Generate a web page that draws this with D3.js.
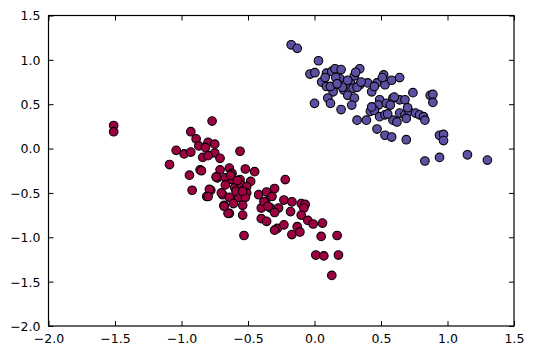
<!DOCTYPE html>
<html><head><meta charset="utf-8">
<script src="https://cdn.jsdelivr.net/npm/d3@7"></script>
<style>body{margin:0;background:#fff}svg{display:block}</style>
</head><body>
<svg id="c" width="535" height="356"></svg>
<script>
const xTicks = [-2.0,-1.5,-1.0,-0.5,0.0,0.5,1.0,1.5];
const yTicks = [-2.0,-1.5,-1.0,-0.5,0.0,0.5,1.0,1.5];

const redX = [-1.51,-1.51,-0.77,-0.93,-0.89,-1.04,-0.98,-0.93,-0.87,-0.80,-0.82,-0.75,-0.75,-1.09,-0.94,-0.86,-0.92,-0.78,-0.81,0.17,0.01,0.07,0.18,0.13,
 -0.84,-0.80,-0.71,-0.56,-0.85,-0.71,-0.64,-0.62,-0.52,-0.45,-0.73,-0.67,-0.62,-0.56,-0.48,-0.67,-0.60,-0.55,-0.51,-0.51,-0.69,-0.64,-0.57,-0.52,-0.79,-0.80,
 -0.68,-0.61,-0.54,-0.64,-0.54,-0.53,-0.42,-0.36,-0.30,-0.32,-0.37,-0.40,-0.33,-0.27,-0.22,-0.23,-0.17,-0.18,-0.40,-0.36,-0.28,-0.23,-0.17,-0.13,-0.11,
 -0.10,-0.07,-0.08,-0.10,-0.05,-0.01,0.06,0.05,-0.65,-0.68,-0.63,-0.59,-0.70,-0.74,-0.38,-0.35,-0.30,-0.30,-0.54,-0.58];
const redY = [0.26,0.19,0.31,0.19,0.11,-0.02,-0.06,-0.04,0.03,0.07,0.01,0.05,-0.05,-0.18,-0.30,-0.24,-0.47,-0.47,-0.54,-0.98,-1.20,-1.21,-1.20,-1.43,
 -0.10,-0.08,-0.11,-0.03,-0.25,-0.24,-0.22,-0.28,-0.23,-0.26,-0.33,-0.33,-0.35,-0.35,-0.37,-0.41,-0.44,-0.41,-0.43,-0.50,-0.52,-0.55,-0.55,-0.55,-0.46,-0.54,
 -0.64,-0.62,-0.64,-0.73,-0.75,-0.98,-0.52,-0.49,-0.45,-0.54,-0.60,-0.67,-0.67,-0.67,-0.35,-0.58,-0.60,-0.71,-0.79,-0.82,-0.90,-0.86,-0.97,-0.88,-0.94,
 -0.62,-0.63,-0.67,-0.75,-0.81,-0.85,-0.84,-0.99,-0.73,-0.65,-0.30,-0.48,-0.50,-0.32,-0.60,-0.65,-0.92,-0.72,-0.48,-0.36];

const blueX = [-0.175,-0.13,0.03,-0.034,0.003,0.09,0.13,0.154,0.20,0.054,0.09,0.14,0.19,0.18,0.22,0.27,0.30,0.34,0.34,0.29,0.25,0.30,0.10,0.12,0.0,0.20,0.28,0.32,
 0.40,0.43,0.47,0.52,0.53,0.58,0.64,0.49,0.48,0.54,0.59,0.64,0.68,0.74,0.57,0.42,0.45,0.49,0.53,0.59,0.62,0.64,0.68,0.71,0.76,0.79,0.82,0.83,0.87,0.89,0.89,
 0.47,0.53,0.58,0.39,0.94,0.97,0.97,0.69,0.83,0.94,1.15,1.30,0.16,0.21,0.12,0.25,0.32,0.45,0.51,0.35,0.60,0.70,0.69,0.55,0.43,0.08,0.17,0.31];
const blueY = [1.17,1.13,0.99,0.84,0.855,0.85,0.87,0.90,0.89,0.75,0.70,0.64,0.79,0.72,0.66,0.74,0.82,0.90,0.72,0.68,0.60,0.57,0.57,0.51,0.51,0.44,0.49,0.32,
 0.74,0.64,0.74,0.83,0.72,0.77,0.80,0.55,0.49,0.51,0.57,0.55,0.55,0.63,0.49,0.42,0.43,0.36,0.38,0.32,0.30,0.40,0.38,0.42,0.40,0.38,0.36,0.32,0.60,0.61,0.52,
 0.22,0.15,0.13,0.32,0.15,0.16,0.09,0.10,-0.14,-0.10,-0.07,-0.13,0.80,0.69,0.70,0.77,0.69,0.70,0.80,0.75,0.58,0.46,0.34,0.39,0.47,0.80,0.73,0.86];

const L=48.5, R=514, T=15.5, B=326;
const x = d3.scaleLinear().domain([-2,1.5]).range([L,R]);
const y = d3.scaleLinear().domain([-2,1.5]).range([B,T]);
const svg = d3.select("#c");
const fmt = d3.format(".1f");
const font = "'DejaVu Sans', sans-serif";

function dots(xs, ys, color){
  svg.append("g").selectAll("circle").data(xs.map((v,i)=>[v,ys[i]])).join("circle")
    .attr("cx",d=>x(d[0])).attr("cy",d=>y(d[1])).attr("r",4.3)
    .attr("fill",color).attr("stroke","#000").attr("stroke-width",1.1);
}
dots(redX, redY, "#9e0142");
dots(blueX, blueY, "#5e4fa2");

const tl = 5;
const gB = svg.append("g").attr("transform",`translate(0,${B})`)
  .call(d3.axisBottom(x).tickValues(xTicks).tickFormat(fmt).tickSizeInner(-tl).tickSizeOuter(0).tickPadding(8));
const gT = svg.append("g").attr("transform",`translate(0,${T})`)
  .call(d3.axisTop(x).tickValues(xTicks).tickFormat("").tickSizeInner(-tl).tickSizeOuter(0));
const gL = svg.append("g").attr("transform",`translate(${L},0)`)
  .call(d3.axisLeft(y).tickValues(yTicks).tickFormat(fmt).tickSizeInner(-tl).tickSizeOuter(0).tickPadding(8));
const gR = svg.append("g").attr("transform",`translate(${R},0)`)
  .call(d3.axisRight(y).tickValues(yTicks).tickFormat("").tickSizeInner(-tl).tickSizeOuter(0));
[gB,gT,gL,gR].forEach(g=>{
  g.select(".domain").remove();
  g.selectAll("line").attr("stroke","#000");
  g.selectAll("text").attr("font-family",font).attr("font-size",12.5).attr("fill","#000");
});
gL.selectAll("text").attr("dx","0").attr("dy","0.35em");
svg.append("rect").attr("x",L).attr("y",T).attr("width",R-L).attr("height",B-T)
  .attr("fill","none").attr("stroke","#000").attr("stroke-width",1.2);
</script>
</body></html>
